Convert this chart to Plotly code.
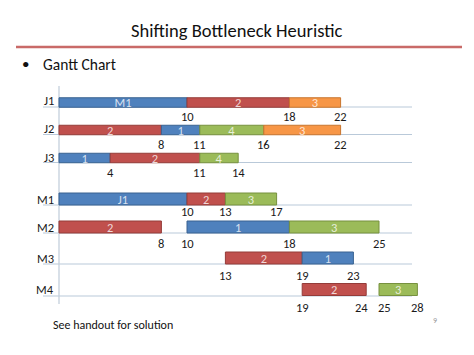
import plotly.graph_objects as go

# ---------------- data ----------------
rows = ["J1", "J2", "J3", "M1", "M2", "M3", "M4"]

# segments per row: label, start, end, colour key
seg_row = ["J1", "J1", "J1",
           "J2", "J2", "J2", "J2",
           "J3", "J3", "J3",
           "M1", "M1", "M1",
           "M2", "M2", "M2",
           "M3", "M3",
           "M4", "M4"]
seg_label = ["M1", "2", "3",
             "2", "1", "4", "3",
             "1", "2", "4",
             "J1", "2", "3",
             "2", "1", "3",
             "2", "1",
             "2", "3"]
seg_start = [0, 10, 18,
             0, 8, 11, 16,
             0, 4, 11,
             0, 10, 13,
             0, 10, 18,
             13, 19,
             19, 25]
seg_end = [10, 18, 22,
           8, 11, 16, 22,
           4, 11, 14,
           10, 13, 17,
           8, 18, 25,
           19, 23,
           24, 28]
seg_color = ["blue", "red", "orange",
             "red", "blue", "green", "orange",
             "blue", "red", "green",
             "blue", "red", "green",
             "red", "blue", "green",
             "red", "blue",
             "red", "green"]

title_text = "Shifting Bottleneck Heuristic"
bullet_text = "Gantt Chart"
footer_text = "See handout for solution"
page_text = "9"

# ---------------- styling ----------------
W, H = 474, 355
PX0 = 59.0      # pixel of t = 0
PXU = 12.8      # pixels per time unit
x0 = -PX0 / PXU
x1 = x0 + W / PXU

def t_of(px):
    return x0 + px / PXU

fills = {"blue": "#4F81BD", "red": "#C0504D", "orange": "#F79646", "green": "#9BBB59"}
edges = {"blue": "#3A6391", "red": "#943C39", "orange": "#C7752F", "green": "#77913F"}

# layout (pixel) positions of rows
row_center = {"J1": 102.5, "J2": 130, "J3": 158, "M1": 199, "M2": 227, "M3": 258, "M4": 289.5}
row_height = {"J1": 9.5, "J2": 9.5, "J3": 9.5, "M1": 12, "M2": 12, "M3": 12, "M4": 12}
row_line = {"J1": 107, "J2": 134.5, "J3": 162.5, "M1": 205, "M2": 233, "M3": 264, "M4": 296}
row_label_y = {"J1": 100, "J2": 128, "J3": 157, "M1": 199, "M2": 227, "M3": 258, "M4": 289}
tick_label_y = {"J1": 116.5, "J2": 144.5, "J3": 172, "M1": 211.5, "M2": 243, "M3": 275, "M4": 307}

FONT = "Carlito, Calibri, Lato, sans-serif"

fig = go.Figure()

for i in range(len(seg_row)):
    r = seg_row[i]
    c = seg_color[i]
    fig.add_trace(go.Bar(
        orientation="h",
        y=[row_center[r]],
        base=[seg_start[i]],
        x=[seg_end[i] - seg_start[i]],
        width=[row_height[r]],
        marker=dict(color=fills[c], line=dict(color=edges[c], width=1)),
        text=[seg_label[i]],
        textposition="inside",
        insidetextanchor="middle",
        textangle=0,
        textfont=dict(family=FONT, size=12.5, color="rgba(255,255,255,0.78)"),
        constraintext="none",
        showlegend=False,
        hoverinfo="skip",
    ))

shapes = []
annotations = []

# baselines under each row
for r in rows:
    shapes.append(dict(type="line", xref="x", yref="y",
                       x0=t_of(43), x1=t_of(412), y0=row_line[r], y1=row_line[r],
                       line=dict(color="#B9C9D9", width=1), layer="below"))
# vertical axis line
shapes.append(dict(type="line", xref="x", yref="y", x0=0, x1=0, y0=86, y1=304,
                   line=dict(color="#C4D0DC", width=1.3), layer="below"))
# title rule
shapes.append(dict(type="line", xref="paper", yref="y", x0=16 / W, x1=462 / W, y0=47, y1=47,
                   line=dict(color="rgba(192,80,77,0.85)", width=2.5)))

# row labels
for r in rows:
    annotations.append(dict(x=t_of(56), y=row_label_y[r], xref="x", yref="y",
                            text=r, showarrow=False, xanchor="right", yanchor="middle",
                            font=dict(family=FONT, size=12.5, color="#1a1a1a")))

# time labels (segment boundaries except 0)
for r in rows:
    times = set()
    for i in range(len(seg_row)):
        if seg_row[i] == r:
            times.add(seg_start[i])
            times.add(seg_end[i])
    times.discard(0)
    times = sorted(times)
    for k, t in enumerate(times):
        shift = 0
        if k + 1 < len(times) and times[k + 1] - t == 1:
            shift = -5
        if k > 0 and t - times[k - 1] == 1:
            shift = 5
        annotations.append(dict(x=t, y=tick_label_y[r], xref="x", yref="y",
                                text=str(t), showarrow=False, xanchor="center", yanchor="middle",
                                xshift=shift,
                                font=dict(family=FONT, size=12.5, color="#1a1a1a")))

# slide texts
annotations.append(dict(x=237 / W, y=30, xref="paper", yref="y", text=title_text,
                        showarrow=False, xanchor="center", yanchor="middle",
                        font=dict(family=FONT, size=18.5, color="#111111")))
annotations.append(dict(x=20 / W, y=64, xref="paper", yref="y", text="\u2022",
                        showarrow=False, xanchor="left", yanchor="middle",
                        font=dict(family=FONT, size=15, color="#111111")))
annotations.append(dict(x=41 / W, y=64, xref="paper", yref="y", text=bullet_text,
                        showarrow=False, xanchor="left", yanchor="middle",
                        font=dict(family=FONT, size=15.5, color="#111111")))
annotations.append(dict(x=51 / W, y=325, xref="paper", yref="y", text=footer_text,
                        showarrow=False, xanchor="left", yanchor="middle",
                        font=dict(family=FONT, size=12, color="#111111")))
annotations.append(dict(x=435 / W, y=320, xref="paper", yref="y", text=page_text,
                        showarrow=False, xanchor="center", yanchor="middle",
                        font=dict(family=FONT, size=8, color="#9a9a9a")))

fig.update_layout(
    width=W, height=H, autosize=False,
    margin=dict(l=0, r=0, t=0, b=0, pad=0),
    paper_bgcolor="white", plot_bgcolor="white",
    barmode="overlay",
    showlegend=False,
    xaxis=dict(range=[x0, x1], visible=False, fixedrange=True),
    yaxis=dict(range=[H, 0], visible=False, fixedrange=True),
    shapes=shapes,
    annotations=annotations,
    font=dict(family=FONT),
)

fig.write_html("out.html", config={"displayModeBar": False},
               post_script="document.body.style.margin='0';document.body.style.overflow='hidden';")
